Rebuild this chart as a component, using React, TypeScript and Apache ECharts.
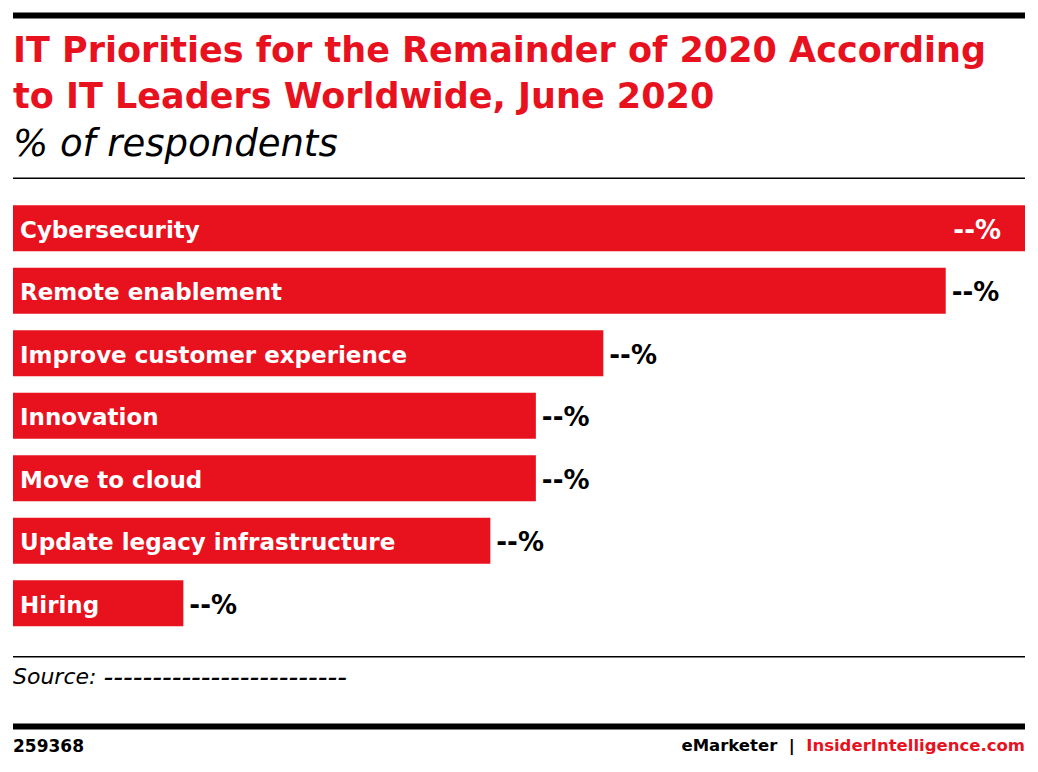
import React, { useEffect, useRef } from "react";
import * as echarts from "echarts";

const categories = [
  "Cybersecurity",
  "Remote enablement",
  "Improve customer experience",
  "Innovation",
  "Move to cloud",
  "Update legacy infrastructure",
  "Hiring",
];
const values = [60, 55.3, 35, 31, 31, 28.3, 10.1];
const valueLabels = ["--%", "--%", "--%", "--%", "--%", "--%", "--%"];

const RED = "#e8111e";
const FONT = "'DejaVu Sans', 'Noto Sans', sans-serif";

export default function App() {
  const ref = useRef<HTMLDivElement>(null);
  useEffect(() => {
    if (!ref.current) return;
    const chart = echarts.init(ref.current, undefined, { renderer: "svg" });
    const valueData = values.map((v, i) =>
      i === 0
        ? {
            value: v,
            label: { position: "insideRight", color: "#ffffff", distance: 24 },
          }
        : { value: v }
    );
    chart.setOption({
      animation: false,
      backgroundColor: "#ffffff",
      grid: { left: 13, right: 13, top: 197, height: 437.5, containLabel: false },
      xAxis: { type: "value", min: 0, max: 60, show: false },
      yAxis: {
        type: "category",
        data: categories,
        inverse: true,
        show: false,
      },
      series: [
        {
          type: "bar",
          data: values,
          barWidth: 46,
          itemStyle: { color: RED },
          label: {
            show: true,
            position: "insideLeft",
            distance: 7,
            offset: [0, 1.5],
            formatter: (p: any) => categories[p.dataIndex],
            color: "#ffffff",
            fontFamily: FONT,
            fontWeight: "bold",
            fontSize: 23,
          },
        },
        {
          type: "bar",
          data: valueData,
          barWidth: 46,
          barGap: "-100%",
          itemStyle: { color: "transparent" },
          label: {
            show: true,
            position: "right",
            distance: 6,
            offset: [0, 1.5],
            formatter: (p: any) => valueLabels[p.dataIndex],
            color: "#000000",
            fontFamily: FONT,
            fontWeight: "bold",
            fontSize: 26,
          },
        },
      ],
      graphic: [
        { type: "rect", shape: { x: 13, y: 12.5, width: 1012, height: 6 }, style: { fill: "#000" } },
        {
          type: "text",
          x: 13,
          y: 27,
          style: {
            text: "IT Priorities for the Remainder of 2020 According\nto IT Leaders Worldwide, June 2020",
            fill: RED,
            font: `bold 35px ${FONT}`,
            lineHeight: 46,
          },
        },
        {
          type: "text",
          x: 13,
          y: 125,
          style: { text: "% of respondents", fill: "#000", font: `oblique 37px ${FONT}` },
        },
        { type: "rect", shape: { x: 13, y: 177.5, width: 1012, height: 1.5 }, style: { fill: "#000" } },
        { type: "rect", shape: { x: 13, y: 656, width: 1012, height: 1.5 }, style: { fill: "#000" } },
        {
          type: "text",
          x: 13,
          y: 663,
          style: {
            rich: {
              a: { fill: "#000", font: `oblique 22px ${FONT}` },
              b: { fill: "#000", font: `oblique 27px ${FONT}` },
            },
            text: "{a|Source: }{b|-------------------------}",
          },
        },
        { type: "rect", shape: { x: 13, y: 723.5, width: 1012, height: 6 }, style: { fill: "#000" } },
        {
          type: "text",
          x: 13,
          y: 737,
          style: { text: "259368", fill: "#000", font: `bold 17px ${FONT}` },
        },
        {
          type: "text",
          right: 13,
          y: 737,
          style: {
            rich: {
              a: { fill: "#000", font: `bold 16.5px ${FONT}` },
              b: { fill: RED, font: `bold 16.5px ${FONT}` },
            },
            text: "{a|eMarketer  |  }{b|InsiderIntelligence.com}",
          },
        },
      ],
    });
    return () => chart.dispose();
  }, []);
  return <div ref={ref} style={{ width: 1038, height: 772, margin: -8 }} />;
}
